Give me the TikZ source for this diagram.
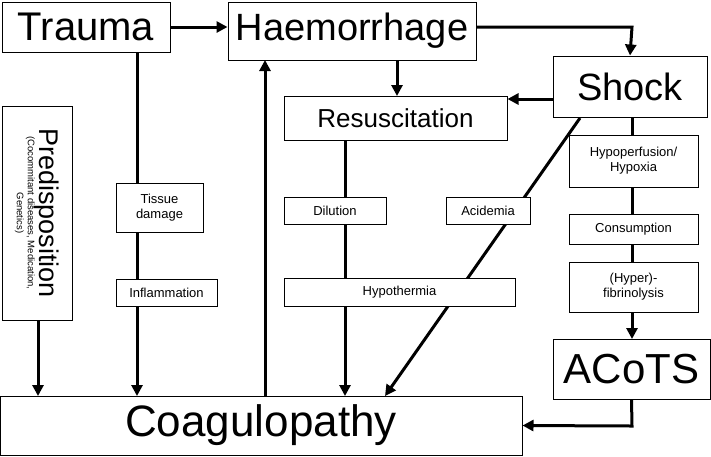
\documentclass[tikz,border=0pt]{standalone}
\usepackage{fontspec}
\setmainfont{Liberation Sans}
\usetikzlibrary{arrows.meta}
\begin{document}
\begin{tikzpicture}[x=1pt,y=-1pt,
  box/.style={draw,line width=1pt,fill=white,inner sep=0pt},
  arr/.style={line width=3pt,-{Triangle[length=11pt,width=11pt]}},
  sm/.style={font=\fontsize{13}{15}\selectfont,align=center}]
\useasboundingbox (0,0) rectangle (711,456);
% lines under boxes
\draw[arr] (137,52) -- (137,396);
\draw[arr] (345,140) -- (345,396);
\draw[arr] (580,118) -- (385,396);
\draw[arr] (632,117) -- (632,339);
\draw[arr] (38,320) -- (38,396);
\draw[arr] (265,396) -- (265,60);
% big boxes
\node[box,minimum width=168,minimum height=50,font=\fontsize{40}{40}\selectfont] (tr) at (86,27) {Trauma};
\node[box,minimum width=248,minimum height=58,font=\fontsize{38}{38}\selectfont] (ha) at (352,31) {Haemorrhage};
\node[box,minimum width=154,minimum height=61,font=\fontsize{38}{38}\selectfont] (sh) at (630,86.5) {Shock};
\node[box,minimum width=223,minimum height=44,font=\fontsize{26}{26}\selectfont] (re) at (395.5,118) {Resuscitation};
\node[box,minimum width=522,minimum height=59,font=\fontsize{44}{44}\selectfont] (co) at (261,425.5) {Coagulopathy};
\node[box,minimum width=157,minimum height=60,font=\fontsize{42}{42}\selectfont] (ac) at (631.5,369) {ACoTS};
\node[box,minimum width=70,minimum height=214] (pr) at (37,213) {};
\node[rotate=-90,align=center] (prt) at (pr.center) {{\fontsize{27}{28}\selectfont Predisposition}\\[-2pt]{\fontsize{9.5}{10}\selectfont (Cocommitant diseases, Medication,}\\[-1pt]{\fontsize{9.5}{10}\selectfont Genetics)}};
% small boxes
\node[box,sm,minimum width=87,minimum height=49] (td) at (159.5,207.5) {Tissue\\damage};
\node[box,sm,minimum width=101,minimum height=27] (in) at (166.5,292.5) {Inflammation};
\node[box,sm,minimum width=102,minimum height=27] (di) at (335,210.5) {Dilution};
\node[box,sm,minimum width=84,minimum height=27] (aci) at (488,210.5) {Acidemia};
\node[box,sm,minimum width=231,minimum height=28] (hy) at (399.5,292) {Hypothermia};
\node[box,sm,minimum width=129,minimum height=52] (hp) at (633.5,161) {Hypoperfusion/\\Hypoxia};
\node[box,sm,minimum width=129,minimum height=30] (cs) at (633.5,229) {Consumption};
\node[box,sm,minimum width=129,minimum height=50] (fb) at (633.5,287) {(Hyper)-\\fibrinolysis};
% connectors
\draw[arr] (tr.east) -- (tr.east -| ha.west);
\draw[arr] (tr.east -| ha.east) -- (632,27) -- (sh.north);
\draw[arr] (397,60) -- (397,96);
\draw[arr] (sh.west |- 0,99) -- (re.east |- 0,99);
\draw[arr] (ac.south) -- (632,426) -- (co.east);
\end{tikzpicture}
\end{document}
